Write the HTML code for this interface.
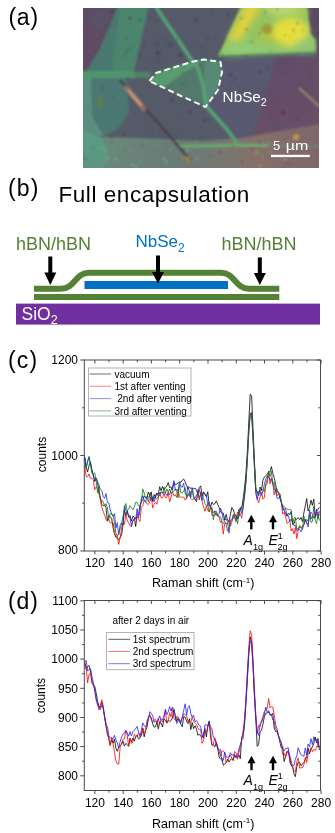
<!DOCTYPE html><html><head><meta charset="utf-8"><style>html,body{margin:0;padding:0;background:#fff;}body{width:335px;height:833px;overflow:hidden;position:relative;}svg{position:absolute;left:0;top:0;-webkit-font-smoothing:antialiased;will-change:transform;}</style></head><body>
<svg width="335" height="833" viewBox="0 0 335 833" font-family='"Liberation Sans", sans-serif'>
<text x="8.4" y="24.5" font-size="23" letter-spacing="0.8">(a)</text>
<defs><clipPath id="pc"><rect x="83" y="8" width="236" height="160"/></clipPath><filter id="bl" x="-5%" y="-5%" width="110%" height="110%"><feGaussianBlur stdDeviation="1.3"/></filter><filter id="bl2" x="-50%" y="-50%" width="200%" height="200%"><feGaussianBlur stdDeviation="3"/></filter><linearGradient id="gb" x1="0" y1="0" x2="0" y2="1"><stop offset="0" stop-color="#a8d060"/><stop offset="0.5" stop-color="#90c878"/><stop offset="1" stop-color="#6eb468"/></linearGradient><linearGradient id="bot" x1="0" y1="0" x2="1" y2="0"><stop offset="0" stop-color="#6a8a7c"/><stop offset="0.3" stop-color="#6a7c78"/><stop offset="0.5" stop-color="#727872"/><stop offset="0.68" stop-color="#86706a"/><stop offset="1" stop-color="#7e646a"/></linearGradient><linearGradient id="flk" x1="0" y1="0" x2="1" y2="0"><stop offset="0" stop-color="#5a9c72"/><stop offset="0.42" stop-color="#5a9872"/><stop offset="0.55" stop-color="#557a70"/><stop offset="1" stop-color="#587e70"/></linearGradient><linearGradient id="blg" x1="0" y1="0" x2="0" y2="1"><stop offset="0" stop-color="#5a9c86"/><stop offset="0.5" stop-color="#5a9884"/><stop offset="1" stop-color="#6a8e80"/></linearGradient><linearGradient id="mv" x1="0" y1="0" x2="0.3" y2="1"><stop offset="0" stop-color="#604c66"/><stop offset="0.6" stop-color="#664e68"/><stop offset="1" stop-color="#6a5068"/></linearGradient></defs>
<g clip-path="url(#pc)"><g filter="url(#bl)">
<polygon points="70.0,0.0 330.0,0.0 330.0,180.0 70.0,180.0" fill="#545a68" />
<polygon points="276.0,56.0 330.0,56.0 330.0,150.0 250.0,150.0 253.0,136.0" fill="url(#mv)" />
<polygon points="222.0,60.0 276.0,58.0 253.0,136.0 237.0,143.0 206.0,107.0 218.0,90.0" fill="#5a5870" opacity="0.8"/>
<polygon points="306.0,0.0 330.0,0.0 330.0,62.0 315.5,53.0 315.5,40.0 310.5,34.0" fill="#5c4a64" />
<polygon points="98.0,137.0 200.0,141.0 242.0,138.0 320.0,124.0 330.0,123.0 330.0,180.0 96.0,180.0" fill="url(#bot)" />
<polygon points="70.0,0.0 117.0,0.0 117.0,8.0 100.0,49.0 88.0,72.0 70.0,72.0" fill="#5f4b64" />
<polygon points="117.0,0.0 149.0,0.0 148.0,8.0 133.0,72.0 86.0,72.0 100.0,49.0 117.0,8.0" fill="#4a7a70" />
<polygon points="121.0,0.0 149.0,0.0 148.0,8.0 134.0,72.0 112.0,72.0" fill="#4c8a6e" opacity="0.75"/>
<polygon points="70.0,72.0 92.0,78.0 92.0,116.0 104.0,136.0 70.0,136.0" fill="#5a8e80" />
<polygon points="70.0,126.0 100.0,137.0 108.0,150.0 100.0,180.0 70.0,180.0" fill="url(#blg)" />
<polygon points="91.0,78.0 126.0,78.0 129.0,112.0 119.0,128.0 104.0,136.0 92.0,116.0" fill="#4c7872" />
<ellipse cx="100" cy="102" rx="3" ry="7" fill="#6a7a40" opacity="0.6"/>
<rect x="70" y="71" width="64" height="7" fill="#50966c"/>
<rect x="134" y="72" width="16" height="6" fill="#4e8c6c" opacity="0.8"/>
<polygon points="244.0,0.0 306.0,0.0 310.5,34.0 315.5,40.0 315.5,53.0 218.0,56.0 224.0,44.0" fill="#94c460" />
<g filter="url(#bl2)">
<polygon points="248.0,2.0 264.0,2.0 240.0,40.0 228.0,40.0" fill="#e2d23c" />
<ellipse cx="290" cy="32" rx="18" ry="14" fill="#e6de3e"/>
<ellipse cx="300" cy="12" rx="8" ry="6" fill="#a8cc58" opacity="0.8"/>
<ellipse cx="268" cy="36" rx="8" ry="6" fill="#c8c040" opacity="0.7"/>
<polygon points="222.0,54.0 234.0,40.0 262.0,46.0 300.0,50.0 230.0,56.0" fill="#90cc78" opacity="0.85"/>
<polygon points="296.0,40.0 312.0,38.0 315.0,52.0 298.0,53.0" fill="#90c878" opacity="0.9"/>
<ellipse cx="282" cy="10" rx="16" ry="5" fill="#c8dc78" opacity="0.8"/>
</g>
<ellipse cx="267" cy="29" rx="5.5" ry="5" fill="#9a8a30" opacity="0.75" filter="url(#bl)"/>
<polygon points="218.0,55.0 315.0,51.0 315.0,55.0 218.0,58.0" fill="#4e7a62" opacity="0.6"/>
<polygon points="149.5,80.5 157.0,72.5 194.0,61.0 205.0,59.5 221.0,62.0 222.0,72.0 218.0,90.0 206.0,107.0 180.0,95.5 149.5,81.0" fill="#52786c" />
<polygon points="149.5,80.5 157.0,72.5 194.0,61.0 204.0,60.0 182.0,74.0 168.0,84.0 162.0,88.0" fill="#5aa070" opacity="0.9"/>
<polygon points="205.0,59.5 221.0,62.0 222.0,72.0 218.0,90.0 206.0,107.0 204.0,80.0" fill="#58907a" opacity="0.7"/>
<polyline points="155.5,0 156.5,8 191,59 197,66 203,85 206,106 226,128 237,143" fill="none" stroke="#58a276" stroke-width="3.4"/>
<circle cx="158" cy="53" r="2.2" fill="#3a3440" opacity="0.55"/>
<circle cx="180" cy="55" r="2" fill="#3a3440" opacity="0.55"/>
<circle cx="170" cy="45" r="1.6" fill="#3a3440" opacity="0.55"/>
<circle cx="130" cy="18" r="1.8" fill="#3a3440" opacity="0.55"/>
<circle cx="140" cy="20" r="1.5" fill="#3a3440" opacity="0.55"/>
<circle cx="112" cy="12" r="1.6" fill="#3a3440" opacity="0.55"/>
<circle cx="196" cy="20" r="1.6" fill="#3a3440" opacity="0.55"/>
<circle cx="230" cy="75" r="1.8" fill="#3a3440" opacity="0.55"/>
<circle cx="260" cy="72" r="1.6" fill="#3a3440" opacity="0.55"/>
<circle cx="190" cy="112" r="1.5" fill="#3a3440" opacity="0.55"/>
<circle cx="205" cy="120" r="1.6" fill="#3a3440" opacity="0.55"/>
<circle cx="172" cy="100" r="1.4" fill="#3a3440" opacity="0.55"/>
<ellipse cx="100" cy="20" rx="12" ry="10" fill="#52586a" opacity="0.6" filter="url(#bl2)"/>
<polyline points="178,146.5 240,145 268,145.5" fill="none" stroke="#68b070" stroke-width="3" opacity="0.85"/>
<polyline points="268,145.5 330,147" fill="none" stroke="#6aa878" stroke-width="2.5" opacity="0.4"/>
<polyline points="100,138 180,141" fill="none" stroke="#6a9a7a" stroke-width="2" opacity="0.4"/>
<polyline points="120,80 160,125 191,161" fill="none" stroke="#483c46" stroke-width="2.6"/>
<polyline points="125,86 145,110" fill="none" stroke="#b88a78" stroke-width="5" opacity="0.6"/>
<polyline points="128,90 142,106" fill="none" stroke="#d09a70" stroke-width="2.6"/>
<polyline points="299,88 320,107" fill="none" stroke="#9a8478" stroke-width="1.8"/>
<circle cx="187" cy="159" r="2.6" fill="#b08440"/>
<circle cx="296" cy="137" r="3" fill="#b89a48"/>
<circle cx="283" cy="113" r="2.4" fill="#702a40" opacity="0.8"/>
<circle cx="139.2" cy="95.1" r="0.9" fill="#383848" opacity="0.40"/>
<circle cx="230.7" cy="18.5" r="0.6" fill="#383848" opacity="0.46"/>
<circle cx="144.2" cy="45.5" r="1.4" fill="#383848" opacity="0.37"/>
<circle cx="280.4" cy="84.2" r="1.1" fill="#383848" opacity="0.29"/>
<circle cx="232.8" cy="146.9" r="1.0" fill="#383848" opacity="0.44"/>
<circle cx="241.5" cy="18.2" r="1.2" fill="#383848" opacity="0.40"/>
<circle cx="154.1" cy="13.0" r="1.3" fill="#383848" opacity="0.37"/>
<circle cx="252.6" cy="148.6" r="1.2" fill="#383848" opacity="0.48"/>
<circle cx="176.2" cy="136.1" r="1.0" fill="#383848" opacity="0.48"/>
<circle cx="290.4" cy="23.6" r="0.7" fill="#383848" opacity="0.30"/>
<circle cx="310.9" cy="77.8" r="1.1" fill="#383848" opacity="0.33"/>
<circle cx="202.7" cy="69.7" r="0.9" fill="#383848" opacity="0.40"/>
<circle cx="220.9" cy="152.7" r="1.1" fill="#383848" opacity="0.48"/>
<circle cx="285.1" cy="166.6" r="1.1" fill="#383848" opacity="0.29"/>
<circle cx="286.1" cy="162.3" r="1.3" fill="#383848" opacity="0.39"/>
<circle cx="251.5" cy="41.8" r="1.3" fill="#383848" opacity="0.39"/>
<circle cx="150.2" cy="18.2" r="1.3" fill="#383848" opacity="0.50"/>
<circle cx="103.9" cy="136.1" r="0.9" fill="#383848" opacity="0.29"/>
<circle cx="152.4" cy="131.0" r="1.3" fill="#383848" opacity="0.26"/>
<circle cx="228.0" cy="15.2" r="1.2" fill="#383848" opacity="0.33"/>
<circle cx="290.9" cy="164.9" r="1.0" fill="#383848" opacity="0.50"/>
<circle cx="156.1" cy="20.3" r="1.1" fill="#383848" opacity="0.26"/>
<circle cx="129.6" cy="73.3" r="1.1" fill="#383848" opacity="0.29"/>
<circle cx="93.0" cy="146.8" r="0.9" fill="#383848" opacity="0.49"/>
<circle cx="294.6" cy="68.4" r="1.0" fill="#383848" opacity="0.38"/>
<circle cx="235.0" cy="103.3" r="1.0" fill="#383848" opacity="0.41"/>
<circle cx="305.0" cy="89.1" r="0.9" fill="#383848" opacity="0.43"/>
<circle cx="139.1" cy="56.2" r="1.4" fill="#383848" opacity="0.38"/>
<circle cx="212.4" cy="9.8" r="0.9" fill="#383848" opacity="0.39"/>
<circle cx="87.7" cy="106.5" r="1.1" fill="#383848" opacity="0.27"/>
<circle cx="231.1" cy="82.6" r="1.1" fill="#383848" opacity="0.34"/>
<circle cx="249.8" cy="126.1" r="0.6" fill="#383848" opacity="0.27"/>
<circle cx="242.5" cy="162.1" r="0.8" fill="#383848" opacity="0.36"/>
<circle cx="222.9" cy="59.2" r="0.9" fill="#383848" opacity="0.33"/>
<circle cx="170.1" cy="103.3" r="0.8" fill="#383848" opacity="0.34"/>
<circle cx="265.3" cy="12.3" r="1.1" fill="#383848" opacity="0.43"/>
<circle cx="156.2" cy="43.6" r="1.2" fill="#383848" opacity="0.31"/>
<circle cx="127.2" cy="77.6" r="1.2" fill="#383848" opacity="0.28"/>
<circle cx="159.0" cy="61.4" r="1.3" fill="#383848" opacity="0.36"/>
<circle cx="284.9" cy="35.1" r="0.9" fill="#383848" opacity="0.41"/>
<circle cx="291.8" cy="80.2" r="0.8" fill="#383848" opacity="0.28"/>
<circle cx="208.0" cy="38.5" r="1.2" fill="#383848" opacity="0.46"/>
<circle cx="126.3" cy="52.6" r="1.2" fill="#383848" opacity="0.41"/>
<circle cx="273.3" cy="63.2" r="0.7" fill="#383848" opacity="0.32"/>
<circle cx="270.4" cy="51.4" r="0.9" fill="#383848" opacity="0.35"/>
<circle cx="182.1" cy="73.5" r="1.3" fill="#383848" opacity="0.29"/>
<circle cx="84.1" cy="158.9" r="1.3" fill="#383848" opacity="0.50"/>
<circle cx="185.5" cy="160.0" r="1.3" fill="#383848" opacity="0.31"/>
<circle cx="258.9" cy="141.9" r="1.1" fill="#383848" opacity="0.38"/>
<circle cx="151.2" cy="62.6" r="0.8" fill="#383848" opacity="0.27"/>
<circle cx="221.9" cy="53.9" r="1.2" fill="#383848" opacity="0.26"/>
<circle cx="296.3" cy="119.0" r="1.3" fill="#383848" opacity="0.47"/>
<circle cx="295.3" cy="100.3" r="0.6" fill="#383848" opacity="0.44"/>
<circle cx="123.5" cy="56.0" r="1.1" fill="#383848" opacity="0.38"/>
<circle cx="180.6" cy="158.2" r="1.1" fill="#383848" opacity="0.34"/>
<circle cx="142.6" cy="145.9" r="1.0" fill="#383848" opacity="0.45"/>
<circle cx="166.0" cy="39.6" r="1.0" fill="#383848" opacity="0.45"/>
<circle cx="123.4" cy="134.7" r="1.3" fill="#383848" opacity="0.45"/>
<circle cx="277.3" cy="9.2" r="1.1" fill="#383848" opacity="0.47"/>
<circle cx="94.8" cy="51.4" r="0.8" fill="#383848" opacity="0.38"/>
<circle cx="182.8" cy="83.7" r="1.2" fill="#383848" opacity="0.25"/>
<circle cx="95.9" cy="28.3" r="0.7" fill="#383848" opacity="0.27"/>
<circle cx="313.0" cy="144.7" r="0.7" fill="#383848" opacity="0.38"/>
<circle cx="157.6" cy="58.3" r="0.9" fill="#383848" opacity="0.41"/>
<circle cx="221.4" cy="65.7" r="0.8" fill="#383848" opacity="0.33"/>
<circle cx="112.2" cy="96.9" r="1.2" fill="#383848" opacity="0.35"/>
<circle cx="101.9" cy="36.6" r="0.9" fill="#383848" opacity="0.40"/>
<circle cx="267.7" cy="68.8" r="1.2" fill="#383848" opacity="0.41"/>
<circle cx="184.9" cy="67.6" r="1.0" fill="#383848" opacity="0.43"/>
<circle cx="182.2" cy="119.1" r="1.0" fill="#383848" opacity="0.31"/>
<circle cx="209.5" cy="119.2" r="0.7" fill="#383848" opacity="0.36"/>
<circle cx="183.5" cy="148.7" r="1.3" fill="#383848" opacity="0.34"/>
<circle cx="294.9" cy="134.5" r="0.8" fill="#383848" opacity="0.37"/>
<circle cx="112.1" cy="138.1" r="1.1" fill="#383848" opacity="0.47"/>
<circle cx="270.0" cy="114.8" r="1.2" fill="#383848" opacity="0.39"/>
<circle cx="107.3" cy="102.0" r="0.6" fill="#383848" opacity="0.29"/>
<circle cx="265.7" cy="15.1" r="0.7" fill="#383848" opacity="0.27"/>
<circle cx="290.8" cy="36.7" r="0.6" fill="#383848" opacity="0.46"/>
<circle cx="111.6" cy="143.0" r="1.1" fill="#383848" opacity="0.46"/>
<circle cx="307.8" cy="100.7" r="1.2" fill="#383848" opacity="0.26"/>
<circle cx="264.1" cy="89.8" r="1.2" fill="#383848" opacity="0.28"/>
<circle cx="259.8" cy="157.5" r="0.6" fill="#383848" opacity="0.33"/>
<circle cx="216.1" cy="140.5" r="0.8" fill="#383848" opacity="0.29"/>
<circle cx="142.0" cy="106.6" r="1.2" fill="#383848" opacity="0.35"/>
<circle cx="169.7" cy="71.5" r="0.9" fill="#383848" opacity="0.35"/>
<circle cx="102.6" cy="88.0" r="1.4" fill="#383848" opacity="0.35"/>
<circle cx="259.4" cy="33.7" r="1.2" fill="#383848" opacity="0.44"/>
<circle cx="242.0" cy="90.7" r="1.0" fill="#383848" opacity="0.41"/>
<circle cx="294.8" cy="31.9" r="0.7" fill="#383848" opacity="0.44"/>
<circle cx="299.3" cy="90.8" r="1.0" fill="#383848" opacity="0.43"/>
<circle cx="126.9" cy="50.8" r="0.8" fill="#383848" opacity="0.40"/>
<circle cx="157.3" cy="45.2" r="1.2" fill="#383848" opacity="0.49"/>
<circle cx="152.8" cy="120.9" r="0.9" fill="#383848" opacity="0.46"/>
<circle cx="221.0" cy="50.7" r="0.8" fill="#383848" opacity="0.26"/>
<circle cx="196.2" cy="69.2" r="0.7" fill="#383848" opacity="0.34"/>
<circle cx="159.0" cy="131.9" r="0.7" fill="#383848" opacity="0.50"/>
<circle cx="196.2" cy="103.8" r="1.0" fill="#383848" opacity="0.46"/>
<circle cx="276.9" cy="97.1" r="1.0" fill="#383848" opacity="0.43"/>
<circle cx="285.2" cy="72.0" r="1.2" fill="#383848" opacity="0.49"/>
<circle cx="193.3" cy="44.7" r="0.8" fill="#383848" opacity="0.43"/>
<circle cx="242.4" cy="161.4" r="1.3" fill="#383848" opacity="0.31"/>
<circle cx="127.8" cy="49.4" r="0.7" fill="#383848" opacity="0.43"/>
<circle cx="285.6" cy="152.0" r="0.8" fill="#383848" opacity="0.47"/>
<circle cx="157.0" cy="75.7" r="1.2" fill="#383848" opacity="0.27"/>
<circle cx="104.9" cy="141.4" r="0.8" fill="#383848" opacity="0.34"/>
<circle cx="220.0" cy="116.1" r="0.6" fill="#383848" opacity="0.33"/>
<circle cx="185.9" cy="85.7" r="0.8" fill="#383848" opacity="0.40"/>
<circle cx="308.5" cy="70.5" r="1.0" fill="#383848" opacity="0.28"/>
<circle cx="147.8" cy="114.5" r="0.7" fill="#383848" opacity="0.47"/>
<circle cx="297.5" cy="23.5" r="1.4" fill="#383848" opacity="0.34"/>
<circle cx="265.3" cy="129.2" r="0.8" fill="#383848" opacity="0.42"/>
<circle cx="237.4" cy="137.0" r="0.8" fill="#383848" opacity="0.44"/>
<circle cx="309.9" cy="115.7" r="1.0" fill="#383848" opacity="0.28"/>
<circle cx="199.6" cy="64.3" r="1.2" fill="#383848" opacity="0.42"/>
<circle cx="216.7" cy="37.1" r="1.1" fill="#383848" opacity="0.41"/>
<circle cx="125.3" cy="150.4" r="1.1" fill="#383848" opacity="0.28"/>
<circle cx="302.9" cy="30.6" r="0.9" fill="#383848" opacity="0.43"/>
<circle cx="224.0" cy="96.8" r="1.1" fill="#383848" opacity="0.36"/>
<circle cx="156.7" cy="36.2" r="0.7" fill="#383848" opacity="0.43"/>
<circle cx="261.1" cy="94.9" r="1.2" fill="#383848" opacity="0.34"/>
<circle cx="145.7" cy="69.3" r="1.3" fill="#383848" opacity="0.26"/>
<circle cx="202.1" cy="47.6" r="1.2" fill="#383848" opacity="0.34"/>
<circle cx="161.6" cy="72.5" r="1.0" fill="#383848" opacity="0.44"/>
<circle cx="166.3" cy="143.5" r="0.7" fill="#383848" opacity="0.32"/>
<circle cx="106.5" cy="26.0" r="1.2" fill="#383848" opacity="0.43"/>
<circle cx="126.6" cy="38.3" r="0.9" fill="#383848" opacity="0.44"/>
<circle cx="275.5" cy="127.8" r="1.1" fill="#383848" opacity="0.29"/>
<circle cx="177.0" cy="39.0" r="1.0" fill="#383848" opacity="0.39"/>
<circle cx="130.7" cy="48.0" r="1.2" fill="#383848" opacity="0.26"/>
<circle cx="272.5" cy="150.6" r="1.4" fill="#383848" opacity="0.35"/>
<circle cx="213.4" cy="101.3" r="1.1" fill="#383848" opacity="0.49"/>
<circle cx="245.0" cy="55.9" r="1.3" fill="#383848" opacity="0.37"/>
<circle cx="224.9" cy="124.3" r="0.6" fill="#383848" opacity="0.44"/>
<circle cx="239.2" cy="86.7" r="1.0" fill="#383848" opacity="0.37"/>
<circle cx="128.7" cy="92.7" r="0.6" fill="#383848" opacity="0.38"/>
<circle cx="235.4" cy="79.1" r="1.1" fill="#383848" opacity="0.49"/>
<circle cx="293.5" cy="29.7" r="1.2" fill="#383848" opacity="0.41"/>
<circle cx="94.9" cy="65.6" r="0.8" fill="#383848" opacity="0.27"/>
<circle cx="210.2" cy="156.8" r="0.9" fill="#383848" opacity="0.47"/>
<circle cx="246.9" cy="29.5" r="1.3" fill="#383848" opacity="0.40"/>
<circle cx="285.1" cy="159.8" r="1.5" fill="#70c070" opacity="0.5"/>
<circle cx="166.1" cy="162.4" r="1.7" fill="#70c070" opacity="0.5"/>
<circle cx="271.7" cy="151.7" r="1.6" fill="#70c070" opacity="0.5"/>
<circle cx="194.9" cy="142.2" r="0.8" fill="#70c070" opacity="0.5"/>
<circle cx="111.9" cy="144.8" r="1.0" fill="#70c070" opacity="0.5"/>
<circle cx="197.4" cy="159.3" r="1.3" fill="#70c070" opacity="0.5"/>
<circle cx="182.1" cy="157.8" r="1.1" fill="#70c070" opacity="0.5"/>
<circle cx="190.7" cy="161.0" r="1.2" fill="#70c070" opacity="0.5"/>
<circle cx="132.8" cy="165.1" r="1.5" fill="#70c070" opacity="0.5"/>
<circle cx="170.9" cy="149.8" r="1.3" fill="#70c070" opacity="0.5"/>
<circle cx="217.7" cy="145.5" r="0.8" fill="#70c070" opacity="0.5"/>
<circle cx="138.6" cy="161.7" r="0.9" fill="#70c070" opacity="0.5"/>
<circle cx="189.8" cy="144.7" r="1.0" fill="#70c070" opacity="0.5"/>
<circle cx="130.8" cy="150.7" r="1.0" fill="#70c070" opacity="0.5"/>
<circle cx="101.6" cy="142.2" r="1.0" fill="#70c070" opacity="0.5"/>
<circle cx="196.0" cy="140.7" r="0.8" fill="#70c070" opacity="0.5"/>
<circle cx="187.4" cy="150.8" r="1.5" fill="#70c070" opacity="0.5"/>
<circle cx="106.4" cy="150.7" r="1.2" fill="#70c070" opacity="0.5"/>
<circle cx="101.4" cy="167.0" r="1.0" fill="#70c070" opacity="0.5"/>
<circle cx="115.2" cy="152.8" r="1.0" fill="#70c070" opacity="0.5"/>
<circle cx="223.0" cy="149.0" r="0.9" fill="#70c070" opacity="0.5"/>
<circle cx="106.6" cy="160.1" r="1.1" fill="#70c070" opacity="0.5"/>
<circle cx="256.7" cy="152.5" r="1.7" fill="#70c070" opacity="0.5"/>
<circle cx="157.3" cy="146.2" r="1.1" fill="#70c070" opacity="0.5"/>
<circle cx="262.2" cy="157.2" r="1.1" fill="#70c070" opacity="0.5"/>
<circle cx="115.1" cy="158.8" r="1.8" fill="#70c070" opacity="0.5"/>
<circle cx="216.8" cy="139.1" r="0.8" fill="#70c070" opacity="0.5"/>
<circle cx="114.5" cy="143.9" r="0.8" fill="#70c070" opacity="0.5"/>
<circle cx="107.0" cy="158.0" r="1.7" fill="#70c070" opacity="0.5"/>
<circle cx="136.9" cy="167.2" r="1.3" fill="#70c070" opacity="0.5"/>
<circle cx="259.9" cy="165.6" r="1.7" fill="#70c070" opacity="0.5"/>
<circle cx="103.0" cy="147.8" r="1.4" fill="#70c070" opacity="0.5"/>
<circle cx="289.1" cy="141.5" r="1.1" fill="#70c070" opacity="0.5"/>
<circle cx="269.4" cy="142.3" r="1.2" fill="#70c070" opacity="0.5"/>
<circle cx="164.2" cy="158.7" r="1.7" fill="#70c070" opacity="0.5"/>
</g>
<path d="M149.5,81 L156,73 L193,61.5 L204,59.5 L220.5,62 L222,72 L218,90 L205.5,107 L180,95.5 Z" fill="none" stroke="#fff" stroke-width="2" stroke-dasharray="6,3.5" stroke-linejoin="round" opacity="0.95"/>
</g>
<text x="222.6" y="102.3" font-size="15.3" fill="#fff">NbSe<tspan font-size="10.8" dy="4">2</tspan></text>
<text x="273" y="150" font-size="13" fill="#fff">5</text>
<text x="285.8" y="150" font-size="13.5" fill="#fff" textLength="22.5" lengthAdjust="spacingAndGlyphs">µm</text>
<rect x="271" y="154.8" width="38.8" height="2.3" fill="#fff"/>
<text x="8" y="195.5" font-size="23" letter-spacing="1.1">(b)</text>
<text x="58.5" y="201.5" font-size="22.5" letter-spacing="0.55">Full encapsulation</text>
<text x="16" y="249.5" font-size="18" fill="#548235">hBN/hBN</text>
<text x="221.5" y="250" font-size="18" fill="#548235">hBN/hBN</text>
<text x="135.5" y="247.4" font-size="17" fill="#0070c0">NbSe<tspan font-size="12" dy="4.5">2</tspan></text>
<path d="M34,288.7 L61,288.7 C75,288.7 75,272.7 89,272.7 L221,272.7 C235,272.7 235,288.7 249,288.7 L279.3,288.7" fill="none" stroke="#548235" stroke-width="6"/>
<rect x="34" y="294" width="245.3" height="6" fill="#548235"/>
<rect x="84.5" y="281" width="143.5" height="8" fill="#0070c0"/>
<rect x="16" y="303.6" width="304" height="21" fill="#7030a0"/>
<text x="21.5" y="320" font-size="17.5" fill="#fff">SiO<tspan font-size="12.5" dy="4">2</tspan></text>
<rect x="48.3" y="256.5" width="4" height="17.0" fill="#000"/><path d="M44.3,272.5 L56.3,272.5 L50.3,285.0 Z" fill="#000"/>
<rect x="156.0" y="255.5" width="4" height="17.5" fill="#000"/><path d="M152.0,272.0 L164.0,272.0 L158.0,283.5 Z" fill="#000"/>
<rect x="257.8" y="257.4" width="4" height="16.6" fill="#000"/><path d="M253.8,273.0 L265.8,273.0 L259.8,285.0 Z" fill="#000"/>
<text x="8" y="368" font-size="23" letter-spacing="1.2">(c)</text>
<rect x="84.3" y="360.0" width="236.2" height="191.0" fill="none" stroke="#4a4a4a" stroke-width="1"/>
<line x1="94.9" y1="551.0" x2="94.9" y2="554.5" stroke="#4a4a4a" stroke-width="1"/>
<line x1="94.9" y1="360.0" x2="94.9" y2="363.5" stroke="#4a4a4a" stroke-width="1"/>
<text x="94.9" y="567.3" font-size="12" text-anchor="middle">120</text>
<line x1="109.0" y1="551.0" x2="109.0" y2="553.2" stroke="#4a4a4a" stroke-width="1"/>
<line x1="109.0" y1="360.0" x2="109.0" y2="362.2" stroke="#4a4a4a" stroke-width="1"/>
<line x1="123.2" y1="551.0" x2="123.2" y2="554.5" stroke="#4a4a4a" stroke-width="1"/>
<line x1="123.2" y1="360.0" x2="123.2" y2="363.5" stroke="#4a4a4a" stroke-width="1"/>
<text x="123.2" y="567.3" font-size="12" text-anchor="middle">140</text>
<line x1="137.3" y1="551.0" x2="137.3" y2="553.2" stroke="#4a4a4a" stroke-width="1"/>
<line x1="137.3" y1="360.0" x2="137.3" y2="362.2" stroke="#4a4a4a" stroke-width="1"/>
<line x1="151.4" y1="551.0" x2="151.4" y2="554.5" stroke="#4a4a4a" stroke-width="1"/>
<line x1="151.4" y1="360.0" x2="151.4" y2="363.5" stroke="#4a4a4a" stroke-width="1"/>
<text x="151.4" y="567.3" font-size="12" text-anchor="middle">160</text>
<line x1="165.6" y1="551.0" x2="165.6" y2="553.2" stroke="#4a4a4a" stroke-width="1"/>
<line x1="165.6" y1="360.0" x2="165.6" y2="362.2" stroke="#4a4a4a" stroke-width="1"/>
<line x1="179.7" y1="551.0" x2="179.7" y2="554.5" stroke="#4a4a4a" stroke-width="1"/>
<line x1="179.7" y1="360.0" x2="179.7" y2="363.5" stroke="#4a4a4a" stroke-width="1"/>
<text x="179.7" y="567.3" font-size="12" text-anchor="middle">180</text>
<line x1="193.8" y1="551.0" x2="193.8" y2="553.2" stroke="#4a4a4a" stroke-width="1"/>
<line x1="193.8" y1="360.0" x2="193.8" y2="362.2" stroke="#4a4a4a" stroke-width="1"/>
<line x1="208.0" y1="551.0" x2="208.0" y2="554.5" stroke="#4a4a4a" stroke-width="1"/>
<line x1="208.0" y1="360.0" x2="208.0" y2="363.5" stroke="#4a4a4a" stroke-width="1"/>
<text x="208.0" y="567.3" font-size="12" text-anchor="middle">200</text>
<line x1="222.1" y1="551.0" x2="222.1" y2="553.2" stroke="#4a4a4a" stroke-width="1"/>
<line x1="222.1" y1="360.0" x2="222.1" y2="362.2" stroke="#4a4a4a" stroke-width="1"/>
<line x1="236.3" y1="551.0" x2="236.3" y2="554.5" stroke="#4a4a4a" stroke-width="1"/>
<line x1="236.3" y1="360.0" x2="236.3" y2="363.5" stroke="#4a4a4a" stroke-width="1"/>
<text x="236.3" y="567.3" font-size="12" text-anchor="middle">220</text>
<line x1="250.4" y1="551.0" x2="250.4" y2="553.2" stroke="#4a4a4a" stroke-width="1"/>
<line x1="250.4" y1="360.0" x2="250.4" y2="362.2" stroke="#4a4a4a" stroke-width="1"/>
<line x1="264.5" y1="551.0" x2="264.5" y2="554.5" stroke="#4a4a4a" stroke-width="1"/>
<line x1="264.5" y1="360.0" x2="264.5" y2="363.5" stroke="#4a4a4a" stroke-width="1"/>
<text x="264.5" y="567.3" font-size="12" text-anchor="middle">240</text>
<line x1="278.7" y1="551.0" x2="278.7" y2="553.2" stroke="#4a4a4a" stroke-width="1"/>
<line x1="278.7" y1="360.0" x2="278.7" y2="362.2" stroke="#4a4a4a" stroke-width="1"/>
<line x1="292.8" y1="551.0" x2="292.8" y2="554.5" stroke="#4a4a4a" stroke-width="1"/>
<line x1="292.8" y1="360.0" x2="292.8" y2="363.5" stroke="#4a4a4a" stroke-width="1"/>
<text x="292.8" y="567.3" font-size="12" text-anchor="middle">260</text>
<line x1="306.9" y1="551.0" x2="306.9" y2="553.2" stroke="#4a4a4a" stroke-width="1"/>
<line x1="306.9" y1="360.0" x2="306.9" y2="362.2" stroke="#4a4a4a" stroke-width="1"/>
<line x1="321.1" y1="551.0" x2="321.1" y2="554.5" stroke="#4a4a4a" stroke-width="1"/>
<line x1="321.1" y1="360.0" x2="321.1" y2="363.5" stroke="#4a4a4a" stroke-width="1"/>
<text x="321.1" y="567.3" font-size="12" text-anchor="middle">280</text>
<line x1="80.3" y1="551.0" x2="84.3" y2="551.0" stroke="#4a4a4a" stroke-width="1"/>
<line x1="320.5" y1="551.0" x2="317.0" y2="551.0" stroke="#4a4a4a" stroke-width="1"/>
<text x="78.0" y="554.1" font-size="12" text-anchor="end">800</text>
<line x1="80.3" y1="455.5" x2="84.3" y2="455.5" stroke="#4a4a4a" stroke-width="1"/>
<line x1="320.5" y1="455.5" x2="317.0" y2="455.5" stroke="#4a4a4a" stroke-width="1"/>
<text x="78.0" y="459.8" font-size="12" text-anchor="end">1000</text>
<line x1="80.3" y1="360.0" x2="84.3" y2="360.0" stroke="#4a4a4a" stroke-width="1"/>
<line x1="320.5" y1="360.0" x2="317.0" y2="360.0" stroke="#4a4a4a" stroke-width="1"/>
<text x="78.0" y="364.3" font-size="12" text-anchor="end">1200</text>
<line x1="82.1" y1="503.2" x2="84.3" y2="503.2" stroke="#4a4a4a" stroke-width="1"/>
<line x1="320.5" y1="503.2" x2="318.3" y2="503.2" stroke="#4a4a4a" stroke-width="1"/>
<line x1="82.1" y1="407.8" x2="84.3" y2="407.8" stroke="#4a4a4a" stroke-width="1"/>
<line x1="320.5" y1="407.8" x2="318.3" y2="407.8" stroke="#4a4a4a" stroke-width="1"/>
<path d="M84.8,458.0 L86.2,467.4 L87.6,471.9 L89.0,465.4 L90.5,462.0 L91.9,469.5 L93.3,475.4 L94.7,481.4 L96.1,477.9 L97.5,481.4 L98.9,493.3 L100.3,497.6 L101.8,504.3 L103.2,505.8 L104.6,505.0 L106.0,507.5 L107.4,521.2 L108.8,515.9 L110.2,516.6 L111.7,518.7 L113.1,527.8 L114.5,533.7 L115.9,537.3 L117.3,538.5 L118.7,539.9 L120.1,537.8 L121.6,534.8 L123.0,524.9 L124.4,509.5 L125.8,515.4 L127.2,511.1 L128.6,517.2 L130.0,515.4 L131.4,521.1 L132.9,516.3 L134.3,517.1 L135.7,526.5 L137.1,514.3 L138.5,514.7 L139.9,505.6 L141.3,502.1 L142.8,499.4 L144.2,496.2 L145.6,497.9 L147.0,497.4 L148.4,492.0 L149.8,495.8 L151.2,491.8 L152.6,501.4 L154.1,494.6 L155.5,497.6 L156.9,493.3 L158.3,494.2 L159.7,486.7 L161.1,490.7 L162.5,486.4 L164.0,490.1 L165.4,487.8 L166.8,486.0 L168.2,482.5 L169.6,487.7 L171.0,486.8 L172.4,490.2 L173.9,482.7 L175.3,484.5 L176.7,484.2 L178.1,482.9 L179.5,482.1 L180.9,482.3 L182.3,480.2 L183.7,479.1 L185.2,481.8 L186.6,485.5 L188.0,489.1 L189.4,487.6 L190.8,488.2 L192.2,488.3 L193.6,488.9 L195.1,488.0 L196.5,490.2 L197.9,494.3 L199.3,487.5 L200.7,485.9 L202.1,496.0 L203.5,491.8 L204.9,494.7 L206.4,496.8 L207.8,491.8 L209.2,506.0 L210.6,506.8 L212.0,502.1 L213.4,504.6 L214.8,503.7 L216.3,500.9 L217.7,504.3 L219.1,507.4 L220.5,511.8 L221.9,513.2 L223.3,513.2 L224.7,520.1 L226.1,514.4 L227.6,520.3 L229.0,521.3 L230.4,514.9 L231.8,507.5 L233.2,509.6 L234.6,513.8 L236.0,515.3 L237.5,518.6 L238.9,509.5 L240.3,510.6 L241.7,507.7 L243.1,499.2 L244.5,487.8 L245.9,474.4 L247.4,450.7 L248.8,422.1 L250.2,394.2 L251.6,395.8 L253.0,429.2 L254.4,460.8 L255.8,488.2 L257.2,492.1 L258.7,495.6 L260.1,487.0 L261.5,490.4 L262.9,480.1 L264.3,477.1 L265.7,476.1 L267.1,474.4 L268.6,472.0 L270.0,471.9 L271.4,466.6 L272.8,473.1 L274.2,477.7 L275.6,484.3 L277.0,492.1 L278.4,492.0 L279.9,498.4 L281.3,502.2 L282.7,506.6 L284.1,510.5 L285.5,513.3 L286.9,516.3 L288.3,513.1 L289.8,514.8 L291.2,511.6 L292.6,522.4 L294.0,523.8 L295.4,519.1 L296.8,519.3 L298.2,517.5 L299.7,519.7 L301.1,517.5 L302.5,521.7 L303.9,512.7 L305.3,505.8 L306.7,498.6 L308.1,510.9 L309.5,507.4 L311.0,500.1 L312.4,505.3 L313.8,499.1 L315.2,516.4 L316.6,511.1 L318.0,509.3 L319.4,507.3" fill="none" stroke="#000000" stroke-width="0.8" stroke-opacity="1" stroke-linejoin="round"/>
<path d="M84.8,467.2 L86.2,476.5 L87.6,476.8 L89.0,474.0 L90.5,478.3 L91.9,478.5 L93.3,479.8 L94.7,489.6 L96.1,486.9 L97.5,488.2 L98.9,492.3 L100.3,499.6 L101.8,507.2 L103.2,511.4 L104.6,515.1 L106.0,519.5 L107.4,521.1 L108.8,519.2 L110.2,522.9 L111.7,522.6 L113.1,522.9 L114.5,532.9 L115.9,536.5 L117.3,536.2 L118.7,544.4 L120.1,537.8 L121.6,528.8 L123.0,523.2 L124.4,524.4 L125.8,514.6 L127.2,520.0 L128.6,522.8 L130.0,525.3 L131.4,526.9 L132.9,521.1 L134.3,518.7 L135.7,518.1 L137.1,516.5 L138.5,519.5 L139.9,521.5 L141.3,507.5 L142.8,505.5 L144.2,500.2 L145.6,501.4 L147.0,503.9 L148.4,504.4 L149.8,501.8 L151.2,494.3 L152.6,508.1 L154.1,504.3 L155.5,502.2 L156.9,504.3 L158.3,498.1 L159.7,492.4 L161.1,497.9 L162.5,497.8 L164.0,492.9 L165.4,497.9 L166.8,497.2 L168.2,492.0 L169.6,501.9 L171.0,497.4 L172.4,491.4 L173.9,495.8 L175.3,494.8 L176.7,497.4 L178.1,489.2 L179.5,496.5 L180.9,497.3 L182.3,497.1 L183.7,497.2 L185.2,500.1 L186.6,498.0 L188.0,495.5 L189.4,491.5 L190.8,498.5 L192.2,499.9 L193.6,498.7 L195.1,499.0 L196.5,501.4 L197.9,490.8 L199.3,500.0 L200.7,491.9 L202.1,501.7 L203.5,506.8 L204.9,511.3 L206.4,505.8 L207.8,510.6 L209.2,511.7 L210.6,505.6 L212.0,515.8 L213.4,515.1 L214.8,515.9 L216.3,512.8 L217.7,516.0 L219.1,517.1 L220.5,522.4 L221.9,521.3 L223.3,534.1 L224.7,523.4 L226.1,523.2 L227.6,524.3 L229.0,520.4 L230.4,526.2 L231.8,522.1 L233.2,514.4 L234.6,518.0 L236.0,521.6 L237.5,512.2 L238.9,515.9 L240.3,513.5 L241.7,518.1 L243.1,507.6 L244.5,495.5 L245.9,481.5 L247.4,459.2 L248.8,431.2 L250.2,415.2 L251.6,413.1 L253.0,438.3 L254.4,467.2 L255.8,493.9 L257.2,498.6 L258.7,502.7 L260.1,497.0 L261.5,492.1 L262.9,499.1 L264.3,497.9 L265.7,485.8 L267.1,484.1 L268.6,472.5 L270.0,483.8 L271.4,477.7 L272.8,482.1 L274.2,494.8 L275.6,489.2 L277.0,495.5 L278.4,494.4 L279.9,493.5 L281.3,501.9 L282.7,514.1 L284.1,512.2 L285.5,516.3 L286.9,523.2 L288.3,522.6 L289.8,520.2 L291.2,531.0 L292.6,528.6 L294.0,534.0 L295.4,527.5 L296.8,538.7 L298.2,530.8 L299.7,526.3 L301.1,528.0 L302.5,525.8 L303.9,525.2 L305.3,520.0 L306.7,522.7 L308.1,524.4 L309.5,516.5 L311.0,512.1 L312.4,514.2 L313.8,518.0 L315.2,517.8 L316.6,514.2 L318.0,511.9 L319.4,515.5" fill="none" stroke="#ff0000" stroke-width="0.8" stroke-opacity="1" stroke-linejoin="round"/>
<path d="M84.8,456.5 L86.2,467.5 L87.6,462.0 L89.0,456.6 L90.5,464.7 L91.9,471.2 L93.3,474.8 L94.7,479.5 L96.1,480.7 L97.5,482.0 L98.9,484.5 L100.3,489.3 L101.8,490.4 L103.2,496.8 L104.6,498.2 L106.0,493.5 L107.4,502.5 L108.8,503.0 L110.2,509.6 L111.7,514.0 L113.1,516.3 L114.5,513.6 L115.9,528.2 L117.3,522.5 L118.7,534.9 L120.1,525.3 L121.6,522.9 L123.0,525.0 L124.4,505.7 L125.8,510.2 L127.2,510.3 L128.6,515.7 L130.0,518.6 L131.4,525.9 L132.9,520.2 L134.3,519.7 L135.7,519.0 L137.1,508.7 L138.5,517.9 L139.9,511.3 L141.3,499.0 L142.8,495.6 L144.2,500.8 L145.6,502.3 L147.0,496.3 L148.4,497.2 L149.8,496.6 L151.2,500.3 L152.6,497.2 L154.1,501.8 L155.5,495.1 L156.9,493.0 L158.3,496.4 L159.7,495.3 L161.1,491.7 L162.5,493.3 L164.0,491.5 L165.4,493.3 L166.8,495.4 L168.2,493.4 L169.6,494.7 L171.0,489.8 L172.4,488.2 L173.9,480.6 L175.3,489.9 L176.7,489.4 L178.1,491.1 L179.5,481.8 L180.9,486.4 L182.3,487.3 L183.7,483.1 L185.2,493.5 L186.6,495.6 L188.0,486.1 L189.4,491.4 L190.8,497.4 L192.2,487.7 L193.6,495.8 L195.1,499.8 L196.5,501.6 L197.9,489.7 L199.3,489.7 L200.7,495.2 L202.1,500.4 L203.5,492.2 L204.9,493.9 L206.4,494.8 L207.8,505.4 L209.2,502.2 L210.6,507.6 L212.0,509.4 L213.4,512.6 L214.8,511.1 L216.3,511.3 L217.7,515.2 L219.1,513.7 L220.5,508.0 L221.9,512.2 L223.3,520.2 L224.7,520.2 L226.1,519.1 L227.6,522.1 L229.0,533.2 L230.4,519.9 L231.8,518.9 L233.2,518.4 L234.6,515.3 L236.0,520.3 L237.5,519.0 L238.9,516.5 L240.3,508.2 L241.7,513.3 L243.1,507.9 L244.5,494.9 L245.9,479.7 L247.4,457.7 L248.8,430.5 L250.2,413.7 L251.6,412.4 L253.0,435.8 L254.4,464.7 L255.8,490.2 L257.2,499.6 L258.7,491.3 L260.1,490.9 L261.5,495.3 L262.9,491.0 L264.3,484.8 L265.7,479.3 L267.1,476.2 L268.6,476.8 L270.0,480.0 L271.4,479.5 L272.8,484.3 L274.2,488.1 L275.6,490.9 L277.0,498.1 L278.4,498.5 L279.9,496.7 L281.3,502.4 L282.7,509.4 L284.1,509.5 L285.5,508.6 L286.9,515.4 L288.3,515.5 L289.8,521.2 L291.2,519.0 L292.6,523.1 L294.0,525.6 L295.4,525.3 L296.8,530.7 L298.2,529.8 L299.7,529.2 L301.1,531.9 L302.5,528.5 L303.9,524.5 L305.3,519.1 L306.7,522.9 L308.1,526.9 L309.5,509.9 L311.0,519.1 L312.4,515.8 L313.8,517.7 L315.2,517.2 L316.6,508.9 L318.0,518.7 L319.4,510.9" fill="none" stroke="#2020ff" stroke-width="0.8" stroke-opacity="1" stroke-linejoin="round"/>
<path d="M84.8,463.8 L86.2,468.3 L87.6,461.0 L89.0,456.8 L90.5,464.8 L91.9,473.4 L93.3,474.4 L94.7,472.7 L96.1,480.2 L97.5,492.7 L98.9,486.3 L100.3,498.8 L101.8,500.0 L103.2,502.0 L104.6,505.8 L106.0,503.6 L107.4,507.7 L108.8,518.8 L110.2,513.6 L111.7,514.6 L113.1,514.7 L114.5,522.9 L115.9,533.2 L117.3,536.0 L118.7,533.6 L120.1,529.2 L121.6,524.0 L123.0,515.7 L124.4,510.0 L125.8,503.5 L127.2,510.8 L128.6,509.5 L130.0,505.6 L131.4,507.3 L132.9,509.7 L134.3,507.1 L135.7,502.3 L137.1,502.6 L138.5,505.5 L139.9,505.8 L141.3,501.9 L142.8,489.0 L144.2,493.3 L145.6,497.9 L147.0,496.9 L148.4,502.1 L149.8,493.3 L151.2,495.5 L152.6,497.9 L154.1,497.1 L155.5,498.8 L156.9,498.8 L158.3,496.6 L159.7,493.2 L161.1,492.5 L162.5,493.4 L164.0,487.1 L165.4,493.1 L166.8,488.9 L168.2,492.1 L169.6,489.3 L171.0,493.5 L172.4,491.5 L173.9,491.2 L175.3,488.8 L176.7,491.8 L178.1,497.9 L179.5,484.6 L180.9,492.7 L182.3,493.0 L183.7,491.1 L185.2,487.7 L186.6,498.4 L188.0,493.9 L189.4,496.4 L190.8,491.5 L192.2,490.1 L193.6,498.2 L195.1,498.5 L196.5,494.5 L197.9,494.6 L199.3,498.3 L200.7,493.6 L202.1,493.7 L203.5,497.8 L204.9,503.3 L206.4,505.6 L207.8,505.2 L209.2,511.9 L210.6,508.3 L212.0,507.5 L213.4,519.9 L214.8,511.0 L216.3,515.2 L217.7,516.3 L219.1,515.5 L220.5,517.2 L221.9,521.5 L223.3,523.5 L224.7,521.2 L226.1,524.3 L227.6,531.1 L229.0,528.3 L230.4,521.7 L231.8,521.0 L233.2,516.1 L234.6,513.8 L236.0,516.0 L237.5,523.9 L238.9,515.1 L240.3,507.0 L241.7,509.2 L243.1,502.8 L244.5,496.6 L245.9,483.0 L247.4,458.4 L248.8,431.5 L250.2,413.3 L251.6,413.2 L253.0,435.6 L254.4,463.7 L255.8,490.9 L257.2,491.0 L258.7,493.5 L260.1,490.4 L261.5,490.4 L262.9,489.6 L264.3,491.9 L265.7,484.0 L267.1,479.9 L268.6,471.0 L270.0,476.6 L271.4,471.3 L272.8,483.3 L274.2,482.3 L275.6,491.4 L277.0,488.7 L278.4,492.8 L279.9,494.3 L281.3,502.0 L282.7,505.9 L284.1,506.3 L285.5,508.5 L286.9,509.0 L288.3,509.3 L289.8,509.5 L291.2,510.0 L292.6,525.1 L294.0,517.9 L295.4,517.5 L296.8,528.6 L298.2,528.9 L299.7,525.5 L301.1,528.2 L302.5,529.2 L303.9,516.2 L305.3,522.1 L306.7,519.4 L308.1,521.3 L309.5,514.5 L311.0,522.5 L312.4,521.5 L313.8,506.4 L315.2,520.3 L316.6,523.7 L318.0,514.0 L319.4,520.5" fill="none" stroke="#0a7a0a" stroke-width="0.8" stroke-opacity="1" stroke-linejoin="round"/>
<rect x="88.5" y="368" width="102.5" height="48" fill="none" stroke="#a0a0a0" stroke-width="0.8"/>
<line x1="89.5" y1="374.0" x2="111" y2="374.0" stroke="#303030" stroke-width="0.7"/>
<text x="114.5" y="377.7" font-size="10" xml:space="preserve">vacuum</text>
<line x1="89.5" y1="386.3" x2="111" y2="386.3" stroke="#ff5050" stroke-width="0.7"/>
<text x="114.5" y="390.0" font-size="10" xml:space="preserve">1st after venting</text>
<line x1="89.5" y1="398.6" x2="111" y2="398.6" stroke="#6060ff" stroke-width="0.7"/>
<text x="114.5" y="402.3" font-size="10" xml:space="preserve"> 2nd after venting</text>
<line x1="89.5" y1="410.9" x2="111" y2="410.9" stroke="#509a50" stroke-width="0.7"/>
<text x="114.5" y="414.6" font-size="10" xml:space="preserve">3rd after venting</text>
<text transform="translate(45.5,454.5) rotate(-90)" font-size="12" text-anchor="middle">counts</text>
<text x="152" y="587" font-size="12.5">Raman shift (cm<tspan font-size="8" dy="-4.5">-1</tspan><tspan dy="4.5">)</tspan></text>
<path d="M251.3,514.8 L247.3,522.3 L255.3,522.3 Z" fill="#000"/><rect x="250.1" y="521.3" width="2.4" height="8" fill="#000"/>
<path d="M273.0,514.8 L269.0,522.3 L277.0,522.3 Z" fill="#000"/><rect x="271.8" y="521.3" width="2.4" height="8" fill="#000"/>
<text x="243.5" y="545.3" font-size="14" font-style="italic">A</text><text x="253" y="549.5" font-size="9.2">1g</text>
<text x="268.5" y="545.3" font-size="14" font-style="italic">E</text><text x="277.5" y="538.5" font-size="9.5">1</text><text x="277.5" y="549.5" font-size="9.2">2g</text>
<text x="8" y="608.5" font-size="23" letter-spacing="0.9">(d)</text>
<rect x="84.3" y="600.5" width="236.2" height="190.0" fill="none" stroke="#4a4a4a" stroke-width="1"/>
<line x1="94.9" y1="790.5" x2="94.9" y2="794.0" stroke="#4a4a4a" stroke-width="1"/>
<line x1="94.9" y1="600.5" x2="94.9" y2="604.0" stroke="#4a4a4a" stroke-width="1"/>
<text x="94.9" y="806.8" font-size="12" text-anchor="middle">120</text>
<line x1="109.0" y1="790.5" x2="109.0" y2="792.7" stroke="#4a4a4a" stroke-width="1"/>
<line x1="109.0" y1="600.5" x2="109.0" y2="602.7" stroke="#4a4a4a" stroke-width="1"/>
<line x1="123.2" y1="790.5" x2="123.2" y2="794.0" stroke="#4a4a4a" stroke-width="1"/>
<line x1="123.2" y1="600.5" x2="123.2" y2="604.0" stroke="#4a4a4a" stroke-width="1"/>
<text x="123.2" y="806.8" font-size="12" text-anchor="middle">140</text>
<line x1="137.3" y1="790.5" x2="137.3" y2="792.7" stroke="#4a4a4a" stroke-width="1"/>
<line x1="137.3" y1="600.5" x2="137.3" y2="602.7" stroke="#4a4a4a" stroke-width="1"/>
<line x1="151.4" y1="790.5" x2="151.4" y2="794.0" stroke="#4a4a4a" stroke-width="1"/>
<line x1="151.4" y1="600.5" x2="151.4" y2="604.0" stroke="#4a4a4a" stroke-width="1"/>
<text x="151.4" y="806.8" font-size="12" text-anchor="middle">160</text>
<line x1="165.6" y1="790.5" x2="165.6" y2="792.7" stroke="#4a4a4a" stroke-width="1"/>
<line x1="165.6" y1="600.5" x2="165.6" y2="602.7" stroke="#4a4a4a" stroke-width="1"/>
<line x1="179.7" y1="790.5" x2="179.7" y2="794.0" stroke="#4a4a4a" stroke-width="1"/>
<line x1="179.7" y1="600.5" x2="179.7" y2="604.0" stroke="#4a4a4a" stroke-width="1"/>
<text x="179.7" y="806.8" font-size="12" text-anchor="middle">180</text>
<line x1="193.8" y1="790.5" x2="193.8" y2="792.7" stroke="#4a4a4a" stroke-width="1"/>
<line x1="193.8" y1="600.5" x2="193.8" y2="602.7" stroke="#4a4a4a" stroke-width="1"/>
<line x1="208.0" y1="790.5" x2="208.0" y2="794.0" stroke="#4a4a4a" stroke-width="1"/>
<line x1="208.0" y1="600.5" x2="208.0" y2="604.0" stroke="#4a4a4a" stroke-width="1"/>
<text x="208.0" y="806.8" font-size="12" text-anchor="middle">200</text>
<line x1="222.1" y1="790.5" x2="222.1" y2="792.7" stroke="#4a4a4a" stroke-width="1"/>
<line x1="222.1" y1="600.5" x2="222.1" y2="602.7" stroke="#4a4a4a" stroke-width="1"/>
<line x1="236.3" y1="790.5" x2="236.3" y2="794.0" stroke="#4a4a4a" stroke-width="1"/>
<line x1="236.3" y1="600.5" x2="236.3" y2="604.0" stroke="#4a4a4a" stroke-width="1"/>
<text x="236.3" y="806.8" font-size="12" text-anchor="middle">220</text>
<line x1="250.4" y1="790.5" x2="250.4" y2="792.7" stroke="#4a4a4a" stroke-width="1"/>
<line x1="250.4" y1="600.5" x2="250.4" y2="602.7" stroke="#4a4a4a" stroke-width="1"/>
<line x1="264.5" y1="790.5" x2="264.5" y2="794.0" stroke="#4a4a4a" stroke-width="1"/>
<line x1="264.5" y1="600.5" x2="264.5" y2="604.0" stroke="#4a4a4a" stroke-width="1"/>
<text x="264.5" y="806.8" font-size="12" text-anchor="middle">240</text>
<line x1="278.7" y1="790.5" x2="278.7" y2="792.7" stroke="#4a4a4a" stroke-width="1"/>
<line x1="278.7" y1="600.5" x2="278.7" y2="602.7" stroke="#4a4a4a" stroke-width="1"/>
<line x1="292.8" y1="790.5" x2="292.8" y2="794.0" stroke="#4a4a4a" stroke-width="1"/>
<line x1="292.8" y1="600.5" x2="292.8" y2="604.0" stroke="#4a4a4a" stroke-width="1"/>
<text x="292.8" y="806.8" font-size="12" text-anchor="middle">260</text>
<line x1="306.9" y1="790.5" x2="306.9" y2="792.7" stroke="#4a4a4a" stroke-width="1"/>
<line x1="306.9" y1="600.5" x2="306.9" y2="602.7" stroke="#4a4a4a" stroke-width="1"/>
<line x1="321.1" y1="790.5" x2="321.1" y2="794.0" stroke="#4a4a4a" stroke-width="1"/>
<line x1="321.1" y1="600.5" x2="321.1" y2="604.0" stroke="#4a4a4a" stroke-width="1"/>
<text x="321.1" y="806.8" font-size="12" text-anchor="middle">280</text>
<line x1="80.3" y1="775.8" x2="84.3" y2="775.8" stroke="#4a4a4a" stroke-width="1"/>
<line x1="320.5" y1="775.8" x2="317.0" y2="775.8" stroke="#4a4a4a" stroke-width="1"/>
<text x="78.0" y="780.1" font-size="12" text-anchor="end">800</text>
<line x1="80.3" y1="746.6" x2="84.3" y2="746.6" stroke="#4a4a4a" stroke-width="1"/>
<line x1="320.5" y1="746.6" x2="317.0" y2="746.6" stroke="#4a4a4a" stroke-width="1"/>
<text x="78.0" y="750.9" font-size="12" text-anchor="end">850</text>
<line x1="80.3" y1="717.5" x2="84.3" y2="717.5" stroke="#4a4a4a" stroke-width="1"/>
<line x1="320.5" y1="717.5" x2="317.0" y2="717.5" stroke="#4a4a4a" stroke-width="1"/>
<text x="78.0" y="721.8" font-size="12" text-anchor="end">900</text>
<line x1="80.3" y1="688.3" x2="84.3" y2="688.3" stroke="#4a4a4a" stroke-width="1"/>
<line x1="320.5" y1="688.3" x2="317.0" y2="688.3" stroke="#4a4a4a" stroke-width="1"/>
<text x="78.0" y="692.6" font-size="12" text-anchor="end">950</text>
<line x1="80.3" y1="659.1" x2="84.3" y2="659.1" stroke="#4a4a4a" stroke-width="1"/>
<line x1="320.5" y1="659.1" x2="317.0" y2="659.1" stroke="#4a4a4a" stroke-width="1"/>
<text x="78.0" y="663.4" font-size="12" text-anchor="end">1000</text>
<line x1="80.3" y1="630.0" x2="84.3" y2="630.0" stroke="#4a4a4a" stroke-width="1"/>
<line x1="320.5" y1="630.0" x2="317.0" y2="630.0" stroke="#4a4a4a" stroke-width="1"/>
<text x="78.0" y="634.3" font-size="12" text-anchor="end">1050</text>
<line x1="80.3" y1="600.8" x2="84.3" y2="600.8" stroke="#4a4a4a" stroke-width="1"/>
<line x1="320.5" y1="600.8" x2="317.0" y2="600.8" stroke="#4a4a4a" stroke-width="1"/>
<text x="78.0" y="605.1" font-size="12" text-anchor="end">1100</text>
<line x1="82.1" y1="761.2" x2="84.3" y2="761.2" stroke="#4a4a4a" stroke-width="1"/>
<line x1="320.5" y1="761.2" x2="318.3" y2="761.2" stroke="#4a4a4a" stroke-width="1"/>
<line x1="82.1" y1="732.1" x2="84.3" y2="732.1" stroke="#4a4a4a" stroke-width="1"/>
<line x1="320.5" y1="732.1" x2="318.3" y2="732.1" stroke="#4a4a4a" stroke-width="1"/>
<line x1="82.1" y1="702.9" x2="84.3" y2="702.9" stroke="#4a4a4a" stroke-width="1"/>
<line x1="320.5" y1="702.9" x2="318.3" y2="702.9" stroke="#4a4a4a" stroke-width="1"/>
<line x1="82.1" y1="673.7" x2="84.3" y2="673.7" stroke="#4a4a4a" stroke-width="1"/>
<line x1="320.5" y1="673.7" x2="318.3" y2="673.7" stroke="#4a4a4a" stroke-width="1"/>
<line x1="82.1" y1="644.6" x2="84.3" y2="644.6" stroke="#4a4a4a" stroke-width="1"/>
<line x1="320.5" y1="644.6" x2="318.3" y2="644.6" stroke="#4a4a4a" stroke-width="1"/>
<line x1="82.1" y1="615.4" x2="84.3" y2="615.4" stroke="#4a4a4a" stroke-width="1"/>
<line x1="320.5" y1="615.4" x2="318.3" y2="615.4" stroke="#4a4a4a" stroke-width="1"/>
<path d="M84.8,662.4 L86.2,669.2 L87.6,666.6 L89.0,665.5 L90.5,670.7 L91.9,682.7 L93.3,685.4 L94.7,686.2 L96.1,692.6 L97.5,700.6 L98.9,707.4 L100.3,705.7 L101.8,702.0 L103.2,707.6 L104.6,717.7 L106.0,726.0 L107.4,733.0 L108.8,738.1 L110.2,745.4 L111.7,739.2 L113.1,743.2 L114.5,739.1 L115.9,748.3 L117.3,751.4 L118.7,747.2 L120.1,745.8 L121.6,744.3 L123.0,741.2 L124.4,746.1 L125.8,743.3 L127.2,744.6 L128.6,746.4 L130.0,738.6 L131.4,741.9 L132.9,738.1 L134.3,741.1 L135.7,736.7 L137.1,735.1 L138.5,738.8 L139.9,738.1 L141.3,735.5 L142.8,728.1 L144.2,736.8 L145.6,730.3 L147.0,727.1 L148.4,716.9 L149.8,716.2 L151.2,717.5 L152.6,723.8 L154.1,727.1 L155.5,726.9 L156.9,722.0 L158.3,728.8 L159.7,721.9 L161.1,723.0 L162.5,727.0 L164.0,719.0 L165.4,720.1 L166.8,723.0 L168.2,720.1 L169.6,721.5 L171.0,720.5 L172.4,718.1 L173.9,709.7 L175.3,715.4 L176.7,721.3 L178.1,717.7 L179.5,721.9 L180.9,724.2 L182.3,726.7 L183.7,716.6 L185.2,717.1 L186.6,721.1 L188.0,723.6 L189.4,718.7 L190.8,729.6 L192.2,722.6 L193.6,728.6 L195.1,725.7 L196.5,729.1 L197.9,735.3 L199.3,734.3 L200.7,736.0 L202.1,737.5 L203.5,734.6 L204.9,728.5 L206.4,736.8 L207.8,725.9 L209.2,720.9 L210.6,737.3 L212.0,745.2 L213.4,744.7 L214.8,747.0 L216.3,742.1 L217.7,748.0 L219.1,756.9 L220.5,758.9 L221.9,757.9 L223.3,765.4 L224.7,764.1 L226.1,762.8 L227.6,759.0 L229.0,762.1 L230.4,759.6 L231.8,758.8 L233.2,760.6 L234.6,755.2 L236.0,756.4 L237.5,757.3 L238.9,755.0 L240.3,758.7 L241.7,738.0 L243.1,733.8 L244.5,723.2 L245.9,702.5 L247.4,677.4 L248.8,651.6 L250.2,637.0 L251.6,641.3 L253.0,664.7 L254.4,695.5 L255.8,719.0 L257.2,746.4 L258.7,744.0 L260.1,731.4 L261.5,730.5 L262.9,724.3 L264.3,717.0 L265.7,713.2 L267.1,712.9 L268.6,711.8 L270.0,714.9 L271.4,715.3 L272.8,713.2 L274.2,727.9 L275.6,731.6 L277.0,731.7 L278.4,734.7 L279.9,742.1 L281.3,747.8 L282.7,746.6 L284.1,761.5 L285.5,756.9 L286.9,751.4 L288.3,752.5 L289.8,757.4 L291.2,765.3 L292.6,767.0 L294.0,773.9 L295.4,776.6 L296.8,766.6 L298.2,762.3 L299.7,762.3 L301.1,765.8 L302.5,764.0 L303.9,762.3 L305.3,759.7 L306.7,757.1 L308.1,748.2 L309.5,753.9 L311.0,748.9 L312.4,747.0 L313.8,743.6 L315.2,737.1 L316.6,742.9 L318.0,738.5 L319.4,750.0" fill="none" stroke="#000000" stroke-width="0.8" stroke-opacity="1" stroke-linejoin="round"/>
<path d="M84.8,663.6 L86.2,666.4 L87.6,682.8 L89.0,674.2 L90.5,673.3 L91.9,681.0 L93.3,684.4 L94.7,689.9 L96.1,700.0 L97.5,702.7 L98.9,710.1 L100.3,708.0 L101.8,699.8 L103.2,706.0 L104.6,716.3 L106.0,723.6 L107.4,734.6 L108.8,738.5 L110.2,745.2 L111.7,737.8 L113.1,743.4 L114.5,752.4 L115.9,761.0 L117.3,763.6 L118.7,764.2 L120.1,747.4 L121.6,743.5 L123.0,739.2 L124.4,738.9 L125.8,730.8 L127.2,735.0 L128.6,745.8 L130.0,738.0 L131.4,743.3 L132.9,742.3 L134.3,734.2 L135.7,736.5 L137.1,736.1 L138.5,733.1 L139.9,734.3 L141.3,735.4 L142.8,728.6 L144.2,734.4 L145.6,730.0 L147.0,720.1 L148.4,718.9 L149.8,714.4 L151.2,720.0 L152.6,721.4 L154.1,720.2 L155.5,719.3 L156.9,723.2 L158.3,718.2 L159.7,724.7 L161.1,718.9 L162.5,719.8 L164.0,715.2 L165.4,710.5 L166.8,723.3 L168.2,721.1 L169.6,712.7 L171.0,716.9 L172.4,708.6 L173.9,718.6 L175.3,719.8 L176.7,716.3 L178.1,717.2 L179.5,720.7 L180.9,721.3 L182.3,717.2 L183.7,713.9 L185.2,714.7 L186.6,715.8 L188.0,721.4 L189.4,721.0 L190.8,722.5 L192.2,716.8 L193.6,721.4 L195.1,722.7 L196.5,724.4 L197.9,727.8 L199.3,729.4 L200.7,729.4 L202.1,743.4 L203.5,740.5 L204.9,731.9 L206.4,732.3 L207.8,726.7 L209.2,724.4 L210.6,730.7 L212.0,744.6 L213.4,744.4 L214.8,737.7 L216.3,743.2 L217.7,746.5 L219.1,751.0 L220.5,756.3 L221.9,751.1 L223.3,750.9 L224.7,752.7 L226.1,762.4 L227.6,760.8 L229.0,757.2 L230.4,755.0 L231.8,758.0 L233.2,759.3 L234.6,751.4 L236.0,752.8 L237.5,759.2 L238.9,752.8 L240.3,746.2 L241.7,739.8 L243.1,730.9 L244.5,719.7 L245.9,698.3 L247.4,671.3 L248.8,647.3 L250.2,630.8 L251.6,634.7 L253.0,659.2 L254.4,688.5 L255.8,713.7 L257.2,733.2 L258.7,725.4 L260.1,726.3 L261.5,720.8 L262.9,716.7 L264.3,711.7 L265.7,709.8 L267.1,709.1 L268.6,698.4 L270.0,707.6 L271.4,706.7 L272.8,707.0 L274.2,714.5 L275.6,724.5 L277.0,728.5 L278.4,735.4 L279.9,739.1 L281.3,743.7 L282.7,754.4 L284.1,753.2 L285.5,756.9 L286.9,753.0 L288.3,750.2 L289.8,755.6 L291.2,760.8 L292.6,766.5 L294.0,770.5 L295.4,771.9 L296.8,762.0 L298.2,757.9 L299.7,768.2 L301.1,767.8 L302.5,767.5 L303.9,764.7 L305.3,757.5 L306.7,762.5 L308.1,754.7 L309.5,752.1 L311.0,747.5 L312.4,751.6 L313.8,749.4 L315.2,750.5 L316.6,747.4 L318.0,742.6 L319.4,742.6" fill="none" stroke="#ff0000" stroke-width="0.8" stroke-opacity="1" stroke-linejoin="round"/>
<path d="M84.8,662.5 L86.2,660.3 L87.6,670.9 L89.0,670.0 L90.5,668.7 L91.9,676.2 L93.3,682.8 L94.7,690.5 L96.1,697.8 L97.5,705.4 L98.9,706.0 L100.3,709.4 L101.8,705.1 L103.2,708.9 L104.6,716.2 L106.0,724.6 L107.4,726.9 L108.8,735.3 L110.2,738.0 L111.7,737.9 L113.1,738.9 L114.5,735.3 L115.9,739.8 L117.3,743.0 L118.7,747.8 L120.1,741.8 L121.6,737.1 L123.0,734.1 L124.4,733.1 L125.8,730.1 L127.2,732.5 L128.6,736.2 L130.0,731.6 L131.4,735.8 L132.9,731.5 L134.3,730.1 L135.7,728.5 L137.1,726.4 L138.5,732.1 L139.9,736.6 L141.3,730.7 L142.8,723.0 L144.2,725.7 L145.6,726.8 L147.0,724.7 L148.4,718.8 L149.8,711.7 L151.2,713.0 L152.6,715.4 L154.1,722.6 L155.5,721.0 L156.9,722.2 L158.3,719.3 L159.7,715.8 L161.1,720.6 L162.5,722.0 L164.0,718.0 L165.4,709.1 L166.8,714.6 L168.2,711.9 L169.6,706.7 L171.0,711.0 L172.4,707.0 L173.9,708.8 L175.3,718.0 L176.7,723.5 L178.1,720.7 L179.5,719.3 L180.9,723.0 L182.3,716.8 L183.7,710.4 L185.2,703.8 L186.6,715.3 L188.0,707.5 L189.4,705.7 L190.8,713.4 L192.2,717.2 L193.6,715.2 L195.1,721.8 L196.5,720.6 L197.9,723.0 L199.3,725.7 L200.7,726.5 L202.1,734.4 L203.5,738.1 L204.9,724.9 L206.4,724.7 L207.8,725.9 L209.2,722.4 L210.6,726.7 L212.0,729.2 L213.4,737.9 L214.8,739.2 L216.3,743.4 L217.7,749.1 L219.1,749.8 L220.5,749.6 L221.9,761.0 L223.3,760.3 L224.7,752.0 L226.1,757.2 L227.6,757.0 L229.0,757.3 L230.4,752.6 L231.8,755.2 L233.2,754.5 L234.6,754.6 L236.0,758.0 L237.5,755.0 L238.9,749.2 L240.3,744.7 L241.7,740.5 L243.1,738.5 L244.5,725.3 L245.9,703.7 L247.4,678.3 L248.8,654.4 L250.2,640.7 L251.6,643.9 L253.0,665.7 L254.4,694.3 L255.8,717.9 L257.2,731.7 L258.7,735.6 L260.1,723.5 L261.5,722.5 L262.9,718.4 L264.3,714.5 L265.7,707.1 L267.1,712.0 L268.6,710.6 L270.0,714.8 L271.4,714.2 L272.8,720.1 L274.2,721.0 L275.6,728.7 L277.0,730.0 L278.4,736.5 L279.9,740.0 L281.3,742.2 L282.7,748.7 L284.1,750.9 L285.5,748.5 L286.9,748.5 L288.3,747.7 L289.8,762.0 L291.2,765.4 L292.6,765.4 L294.0,765.5 L295.4,759.1 L296.8,756.0 L298.2,747.8 L299.7,752.0 L301.1,754.9 L302.5,755.6 L303.9,756.3 L305.3,748.1 L306.7,755.1 L308.1,744.0 L309.5,746.9 L311.0,738.7 L312.4,744.5 L313.8,736.8 L315.2,740.1 L316.6,739.3 L318.0,744.2 L319.4,747.0" fill="none" stroke="#2020ff" stroke-width="0.8" stroke-opacity="1" stroke-linejoin="round"/>
<text x="112.5" y="624.3" font-size="10">after 2 days in air</text>
<rect x="106.6" y="632.4" width="87.4" height="37.3" fill="none" stroke="#a0a0a0" stroke-width="0.8"/>
<line x1="108.4" y1="639.3" x2="130" y2="639.3" stroke="#303030" stroke-width="0.8"/>
<text x="132.8" y="642.9" font-size="10">1st spectrum</text>
<line x1="108.4" y1="651.5" x2="130" y2="651.5" stroke="#ff5050" stroke-width="0.8"/>
<text x="132.8" y="655.1" font-size="10">2nd spectrum</text>
<line x1="108.4" y1="663.7" x2="130" y2="663.7" stroke="#5050ff" stroke-width="0.8"/>
<text x="132.8" y="667.3" font-size="10">3rd spectrum</text>
<text transform="translate(45,695.6) rotate(-90)" font-size="12" text-anchor="middle">counts</text>
<text x="152" y="827.8" font-size="12.5">Raman shift (cm<tspan font-size="8" dy="-4.5">-1</tspan><tspan dy="4.5">)</tspan></text>
<path d="M251.5,755.7 L247.5,763.2 L255.5,763.2 Z" fill="#000"/><rect x="250.3" y="762.2" width="2.4" height="8" fill="#000"/>
<path d="M273.0,755.7 L269.0,763.2 L277.0,763.2 Z" fill="#000"/><rect x="271.8" y="762.2" width="2.4" height="8" fill="#000"/>
<text x="243.5" y="785.3" font-size="14" font-style="italic">A</text><text x="253" y="789.5" font-size="9.2">1g</text>
<text x="268.5" y="785.3" font-size="14" font-style="italic">E</text><text x="277.5" y="778.5" font-size="9.5">1</text><text x="277.5" y="789.5" font-size="9.2">2g</text>
</svg></body></html>
